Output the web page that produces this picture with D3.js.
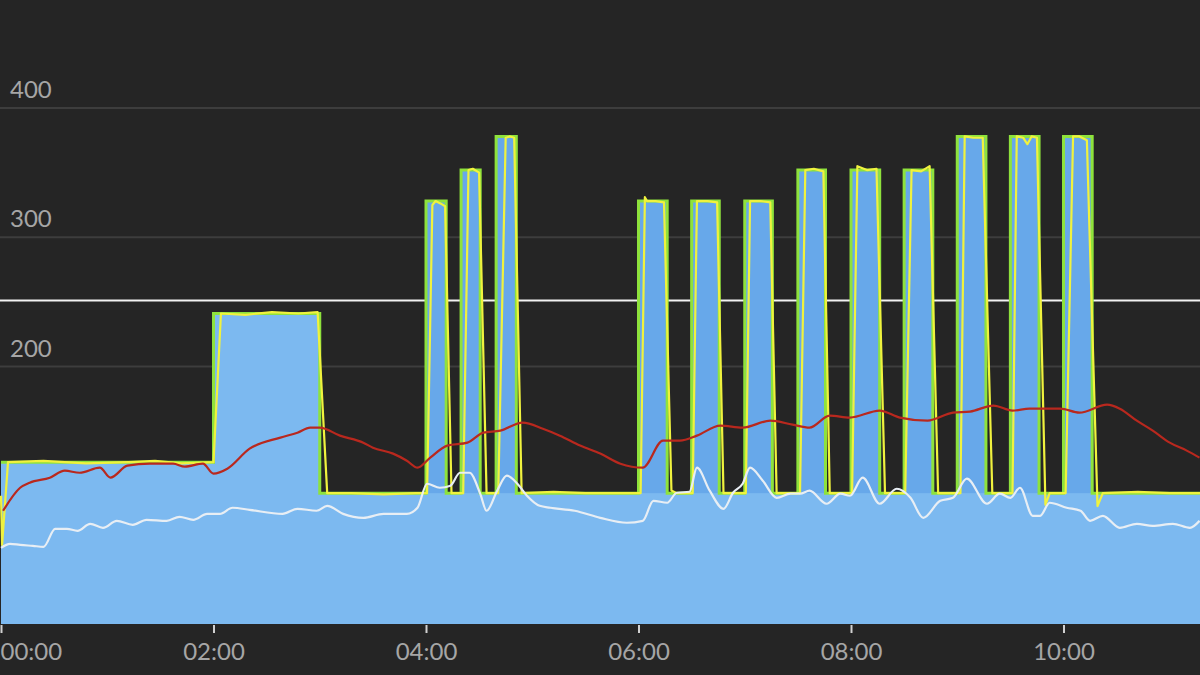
<!DOCTYPE html>
<html>
<head>
<meta charset="utf-8">
<script src="https://cdn.jsdelivr.net/npm/d3@7"></script>
<style>
  html, body { margin: 0; padding: 0; background: #252525; }
  svg { display: block; }
</style>
</head>
<body>
<svg id="chart" width="1200" height="675"></svg>
<script>
// ---------------- data ----------------
// Target (workout) power steps: start minute of each step and its watts
const targetTimes = [0, 2.0, 3.0, 4.0, 4.19, 4.33, 4.51, 4.66, 4.85, 6.0, 6.27, 6.5, 6.76, 7.0, 7.26, 7.5, 7.76, 8.0, 8.27, 8.5, 8.77, 9.0, 9.27, 9.5, 9.77, 10.0, 10.27, 11.3];
const targetWatts = [126, 241, 102, 328, 102, 352, 102, 378, 102, 328, 102, 328, 102, 328, 102, 352, 102, 352, 102, 352, 102, 378, 102, 378, 102, 378, 102, 102];

// FTP reference line
const ftpWatts = 251;

// Actual power (minute, watts)
const powerSeries = [
  [0,100],[0.01,62],[0.066,126],[0.4,127],[0.8,125],[1.2,126],[1.45,127],[1.7,125],[2.0,126],
  [2.07,241],[2.3,240],[2.55,242],[2.8,241],[2.98,242],[3.07,102],
  [3.3,102],[3.6,101],[3.9,102],[4.01,102],[4.06,325],[4.09,328],[4.14,326],[4.18,324],[4.24,102],
  [4.35,102],[4.40,352],[4.44,353],[4.50,350],[4.57,102],
  [4.68,102],[4.75,377],[4.79,378],[4.83,377],[4.90,102],
  [5.2,103],[5.5,102],[5.8,102],[6.02,102],[6.06,331],[6.08,328],[6.16,328],[6.24,327],[6.31,104],[6.36,102],
  [6.51,102],[6.55,328],[6.65,328],[6.74,327],[6.80,102],
  [7.01,102],[7.05,328],[7.15,328],[7.24,327],[7.30,102],
  [7.52,102],[7.57,352],[7.65,353],[7.74,351],[7.80,102],
  [8.01,102],[8.06,355],[8.15,352],[8.24,353],[8.32,102],
  [8.51,102],[8.57,352],[8.66,351],[8.74,355],[8.82,102],
  [9.03,102],[9.07,378],[9.15,377],[9.24,377],[9.33,102],
  [9.52,102],[9.56,378],[9.62,377],[9.66,372],[9.70,378],[9.75,377],[9.83,93],[9.87,102],
  [10.02,102],[10.09,378],[10.15,378],[10.22,375],[10.32,92],[10.37,102],[10.7,103],[11.0,102],[11.3,102]
];

// Red series (minute, value on the chart's scale)
const redSeries = [
  [0.02,88.4],[0.18,106.2],[0.27,110.1],[0.46,114.0],[0.60,119.4],[0.74,117.8],[0.93,121.7],[1.03,114.0],
  [1.19,123.3],[1.40,124.8],[1.62,124.8],[1.73,122.5],[1.90,124.8],[2.00,117.1],[2.13,120.9],[2.34,136.4],
  [2.63,145.0],[2.79,148.8],[2.91,152.7],[3.00,152.7],[3.19,146.5],[3.41,141.1],[3.50,137.2],[3.69,132.6],
  [3.82,127.1],[3.92,121.7],[4.04,129.5],[4.20,138.8],[4.39,141.1],[4.54,148.8],[4.70,150.4],[4.91,156.6],
  [5.10,151.9],[5.26,146.5],[5.45,138.8],[5.64,132.6],[5.83,124.8],[6.04,121.7],[6.23,142.6],[6.39,142.6],
  [6.55,146.5],[6.77,154.3],[6.98,152.7],[7.24,158.1],[7.45,155.0],[7.61,152.7],[7.80,162.0],[7.99,160.5],
  [8.27,165.9],[8.46,160.5],[8.72,158.1],[8.96,164.3],[9.12,165.1],[9.34,169.8],[9.52,165.9],[9.68,167.4],
  [9.97,167.4],[10.15,164.3],[10.41,170.5],[10.53,167.4],[10.69,158.1],[10.84,150.4],[11.00,141.1],
  [11.16,134.9],[11.28,129.5]
];

// White series (minute, value on the chart's scale)
const whiteSeries = [
  [0,59.7],[0.085,62.8],[0.18,62.0],[0.30,61.2],[0.40,60.5],[0.51,74.4],[0.62,74.4],[0.72,72.9],[0.84,78.3],
  [0.96,75.2],[1.09,80.6],[1.24,77.5],[1.37,81.4],[1.56,80.6],[1.68,83.7],[1.81,81.4],[1.94,86.0],[2.06,86.0],
  [2.18,90.7],[2.34,89.1],[2.65,86.0],[2.79,89.9],[2.97,88.4],[3.07,92.2],[3.22,86.0],[3.41,82.9],[3.60,86.0],
  [3.82,86.0],[3.92,90.7],[4.01,109.3],[4.13,106.2],[4.23,107.8],[4.32,117.8],[4.41,117.8],[4.51,101.6],
  [4.57,88.4],[4.67,103.9],[4.76,115.5],[4.86,109.3],[4.95,100.0],[5.07,92.2],[5.17,90.7],[5.40,88.4],
  [5.64,82.9],[5.89,79.1],[6.04,80.6],[6.14,96.1],[6.27,94.6],[6.36,102.3],[6.48,103.1],[6.55,121.7],
  [6.67,103.9],[6.80,89.9],[6.89,102.3],[6.98,109.3],[7.05,121.7],[7.17,111.6],[7.30,98.4],[7.43,101.6],
  [7.52,101.6],[7.61,103.9],[7.77,93.8],[7.90,101.6],[7.99,100.0],[8.11,114.0],[8.27,93.8],[8.43,105.4],
  [8.56,98.4],[8.68,82.9],[8.84,96.1],[8.96,98.4],[9.09,113.2],[9.28,93.8],[9.40,101.6],[9.50,98.4],
  [9.59,106.2],[9.71,84.5],[9.78,84.5],[9.87,94.6],[10.03,90.7],[10.16,88.4],[10.25,80.6],[10.37,84.5],
  [10.53,75.2],[10.69,78.3],[10.84,76.7],[11.03,78.3],[11.19,75.2],[11.28,80.6]
];

const yTickValues = [200, 300, 400];
const xTickValues = [0, 2, 4, 6, 8, 10];
const xTickLabels = ["00:00", "02:00", "04:00", "06:00", "08:00", "10:00"];

// ---------------- chart ----------------
const W = 1200, H = 675;
const svg = d3.select("#chart");

const x = d3.scaleLinear().domain([0, 11.28]).range([1, 1199.5]);
const y = d3.scaleLinear().domain([0, 400]).range([625, 108]);
const plotBottom = 624;

svg.append("rect").attr("width", W).attr("height", H).attr("fill", "#252525");

svg.append("defs").append("clipPath").attr("id", "plotclip")
  .append("rect").attr("x", 0).attr("y", 0).attr("width", W).attr("height", plotBottom);

// gridlines
const grid = svg.append("g");
grid.selectAll("line").data(yTickValues).join("line")
  .attr("x1", 0).attr("x2", W)
  .attr("y1", d => y(d)).attr("y2", d => y(d))
  .attr("stroke", "#3d3d3d").attr("stroke-width", 2);

// y labels
svg.append("g").selectAll("text").data(yTickValues).join("text")
  .attr("x", 10).attr("y", d => y(d) - 10)
  .attr("fill", "#a6a6a6")
  .attr("font-family", "Lato, 'Open Sans', sans-serif")
  .attr("font-size", 24)
  .text(d => d);

// FTP line
svg.append("line")
  .attr("x1", 0).attr("x2", W)
  .attr("y1", y(ftpWatts)).attr("y2", y(ftpWatts))
  .attr("stroke", "#f2f2f2").attr("stroke-width", 2);

const plot = svg.append("g").attr("clip-path", "url(#plotclip)");

const targetData = targetTimes.map((t, i) => ({ t, w: targetWatts[i] }));

// base fill
plot.append("path").datum(targetData)
  .attr("d", d3.area().curve(d3.curveStepAfter)
    .x(d => x(d.t)).y0(y(0)).y1(d => y(d.w)))
  .attr("fill", "#7cb9f0");

// darker interval blocks (above-threshold efforts)
const blocks = targetData.slice(0, -1).map((d, i) => ({ t0: d.t, t1: targetData[i + 1].t, w: d.w }))
  .filter(d => d.w > ftpWatts);
plot.append("g").selectAll("rect").data(blocks).join("rect")
  .attr("x", d => x(d.t0)).attr("width", d => x(d.t1) - x(d.t0))
  .attr("y", d => y(d.w)).attr("height", d => y(102) - y(d.w))
  .attr("fill", "#67a8ea");

// target line (green)
plot.append("path").datum(targetData)
  .attr("d", d3.line().curve(d3.curveStepAfter).x(d => x(d.t)).y(d => y(d.w)))
  .attr("fill", "none").attr("stroke", "#8ee23c").attr("stroke-width", 3);

// actual power (yellow)
plot.append("path").datum(powerSeries)
  .attr("d", d3.line().x(d => x(d[0])).y(d => y(d[1])))
  .attr("fill", "none").attr("stroke", "#f0f23e").attr("stroke-width", 2.2)
  .attr("stroke-linejoin", "round");

// red
plot.append("path").datum(redSeries)
  .attr("d", d3.line().curve(d3.curveMonotoneX).x(d => x(d[0])).y(d => y(d[1])))
  .attr("fill", "none").attr("stroke", "#b9281e").attr("stroke-width", 2.2);

// white
plot.append("path").datum(whiteSeries)
  .attr("d", d3.line().curve(d3.curveMonotoneX).x(d => x(d[0])).y(d => y(d[1])))
  .attr("fill", "none").attr("stroke", "#e8eef4").attr("stroke-width", 2.2);

// x axis
const xAxis = d3.axisBottom(x).tickValues(xTickValues)
  .tickFormat((d, i) => xTickLabels[i]).tickSize(8).tickPadding(10);
const gx = svg.append("g").attr("transform", `translate(0,${plotBottom + 1})`).call(xAxis);
gx.select(".domain").remove();
gx.selectAll(".tick line").attr("stroke", "#d0d0d0").attr("stroke-width", 2);
gx.selectAll(".tick text")
  .attr("fill", "#a6a6a6")
  .attr("font-family", "Lato, 'Open Sans', sans-serif")
  .attr("font-size", 24);
gx.selectAll(".tick").filter(d => d === 0).select("text")
  .attr("text-anchor", "start").attr("x", -1);
</script>
</body>
</html>
